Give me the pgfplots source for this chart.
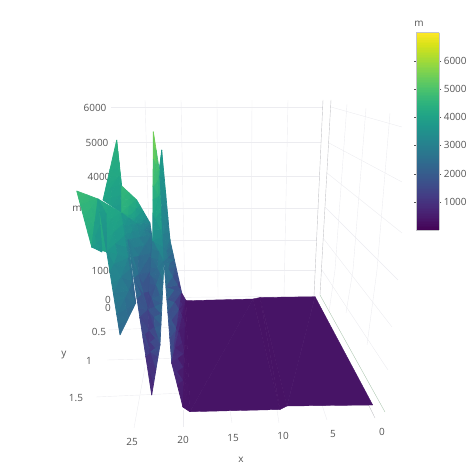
\documentclass[border=0pt]{standalone}
\usepackage{pgfplots}
\pgfplotsset{compat=1.18}
\usepgfplotslibrary{patchplots}
\usepackage{fontspec}
\setmainfont{Open Sans}
\definecolor{plotgrid}{HTML}{ECECF0}
\definecolor{plottext}{HTML}{555555}
\definecolor{axisedge}{HTML}{C4C4C8}

\begin{document}
\begin{tikzpicture}[every node/.style={font=\fontsize{10}{12}\selectfont,text=plottext}]
\path[use as bounding box] (0,0) rectangle (474bp,475bp);
\begin{axis}[
    at={(0,0)},anchor=south west,
    width=474bp,height=475bp,scale only axis,
    xmin=0,xmax=474,ymin=0,ymax=475,y dir=reverse,
    hide axis,clip=false,
    colormap/viridis,
    point meta min=0,point meta max=7000,
    colorbar sampled,
    colorbar style={
        samples=120,
        at={(416/474,1-32.7/475)},anchor=north west,
        width=23.3bp,height=197.3bp,
        y dir=normal,
        ytick={1000,2000,3000,4000,5000,6000},
        yticklabel pos=right,
        tick align=outside,
        major tick length=2pt,
        tick style={color=plottext},
        axis line style={color=axisedge},
        yticklabel style={font=\fontsize{10}{12}\selectfont,text=plottext,
            xshift=-1pt,
            /pgf/number format/assume math mode=true,
            /pgf/number format/1000 sep={}},
    },
]
% back wall grid, screen position of m = 0..6000
\addplot[plotgrid,forget plot] coordinates {(111,107) (323,107)};
\addplot[plotgrid,forget plot] coordinates {(113,142) (321,142)};
\addplot[plotgrid,forget plot] coordinates {(115,176) (320,176)};
\addplot[plotgrid,forget plot] coordinates {(117,208) (319,208)};
\addplot[plotgrid,forget plot] coordinates {(120,240) (317,240)};
\addplot[plotgrid,forget plot] coordinates {(122,270) (316,270)};
\addplot[plotgrid,forget plot] coordinates {(125,298) (314,296)};
\addplot[plotgrid,forget plot] coordinates {(145,100) (151,300)};
\addplot[plotgrid,forget plot] coordinates {(181,100) (185,300)};
\addplot[plotgrid,forget plot] coordinates {(217,100) (218,298)};
\addplot[plotgrid,forget plot] coordinates {(252,100) (251,298)};
\addplot[plotgrid,forget plot] coordinates {(288,100) (284,297)};
% right wall grid
\addplot[plotgrid,forget plot] coordinates {(331,107) (402,127)};
\addplot[plotgrid,forget plot] coordinates {(329,143) (402,182)};
\addplot[plotgrid,forget plot] coordinates {(327,173) (402,233)};
\addplot[plotgrid,forget plot] coordinates {(325,207) (398,280)};
\addplot[plotgrid,forget plot] coordinates {(323,238) (392,327)};
\addplot[plotgrid,forget plot] coordinates {(322,270) (388,370)};
\addplot[plotgrid,forget plot] coordinates {(347,104) (335,270) (329,312)};
\addplot[plotgrid,forget plot] coordinates {(366,108) (353,270) (346,313)};
\addplot[plotgrid,forget plot] coordinates {(390,113) (377,270) (367,345)};
% floor grid
\addplot[plotgrid,forget plot] coordinates {(108,330) (180,327)};
\addplot[plotgrid,forget plot] coordinates {(107,360) (180,358)};
\addplot[plotgrid,forget plot] coordinates {(96,397) (184,393)};
\addplot[plotgrid,forget plot] coordinates {(134,428) (145,367)};
\addplot[plotgrid,forget plot] coordinates {(183,427) (183,410)};
\addplot[plotgrid,forget plot] coordinates {(232,423) (230,410)};
\addplot[plotgrid,forget plot] coordinates {(279,423) (277,410)};
\addplot[plotgrid,forget plot] coordinates {(327,420) (322,405)};
% box edges
\addplot[axisedge,forget plot] coordinates {(323,100) (314,296)};
\addplot[axisedge,forget plot] coordinates {(331,100) (320,295)};
\addplot[axisedge!90!green,forget plot] coordinates {(320,295) (385,412)};
\addplot[axisedge,forget plot] coordinates {(315,296) (375,418)};

% tick and axis labels, under the surface
\node at (axis cs:95,108) {6000};
\node at (axis cs:97,143) {5000};
\node at (axis cs:99,177) {4000};
\node at (axis cs:103,271) {1000};
\node at (axis cs:77,209) {m};
\node at (axis cs:108,300) {0};
\node at (axis cs:108,308) {0};
\node at (axis cs:99,332) {0.5};
\node at (axis cs:89,361) {1};
\node at (axis cs:76,398) {1.5};
\node at (axis cs:64,355) {y};
\node at (axis cs:132,442) {25};
\node at (axis cs:183,440) {20};
\node at (axis cs:233,438) {15};
\node at (axis cs:283,436) {10};
\node at (axis cs:333,434) {5};
\node at (axis cs:382,432) {0};
\node at (axis cs:241,460) {x};
\node at (axis cs:419,24) {m};

% floor of the surface
\addplot[patch,shader=flat,point meta=explicit,forget plot] table[x=sx,y=sy,meta=m] {
sx sy m
186 300.7 350
253 299 350
190 411.7 350
253 299 350
190 411.7 350
280 409.5 350
260 297.5 350
315 296.7 350
287 406 350
315 296.7 350
287 406 350
372.7 405 350
253 299 335
260 297.5 335
280 409.5 335
260 297.5 335
280 409.5 335
287 406 335
};

% spikes, one triangle per three rows: screen x, screen y, m
\addplot[patch,patch refines=4,shader=flat,line width=0.7pt,point meta=explicit,forget plot] table[x=sx,y=sy,meta=m] {
sx sy m
76.7 191 4800
98 199 4500
91.7 247 4200
98 199 4500
91.7 247 4200
106.7 252 4000
116.7 140 4500
103 200 4100
121.7 213 3700
116.7 140 4500
121.7 213 3700
121.7 186 4200
98 199 4300
121.7 213 4100
106.7 252 3800
98 199 4000
102 252 3500
91.7 247 4000
98 199 4000
106 214 3800
106.7 252 3400
121.7 213 4100
106.7 252 3800
135.7 303 2100
106.7 252 3600
135.7 303 2300
120 335 2400
121.7 186 4700
136.7 200 4300
121.7 213 4500
136.7 200 4300
121.7 213 4500
150 223 3100
121.7 213 4500
150 223 3100
151.7 235 2500
121.7 213 3900
151.7 235 2800
128 240 3300
128 240 3300
135.7 303 1900
121.7 213 3900
128 240 3300
151.7 235 2800
148 310 1200
128 240 3300
148 310 1200
151.7 395 600
151.7 235 2800
152.7 241 2700
148 310 1200
159.3 170 3700
161.7 150 3900
160 177 3700
153.3 131.7 5800
152.7 241 3300
164 262 3000
153.3 131.7 5800
159.3 170 4600
164 262 3000
152.7 241 2900
164 262 3000
148 310 1200
164 262 3000
160 345 2100
148 310 1200
148 310 1200
160 345 2100
151.7 395 600
161.7 150 3900
160 177 3600
164 262 2900
161.7 150 3900
164 262 2900
170 240 2700
164 262 3000
170 240 2700
181.7 293 1000
164 262 3000
171.7 363 1500
181.7 293 1000
181.7 293 800
171.7 363 1400
186 300.7 350
186 300.7 350
171.7 363 1200
183 407 400
186 300.7 350
183 407 400
190 411.7 350
};
\end{axis}
\end{tikzpicture}
\end{document}
